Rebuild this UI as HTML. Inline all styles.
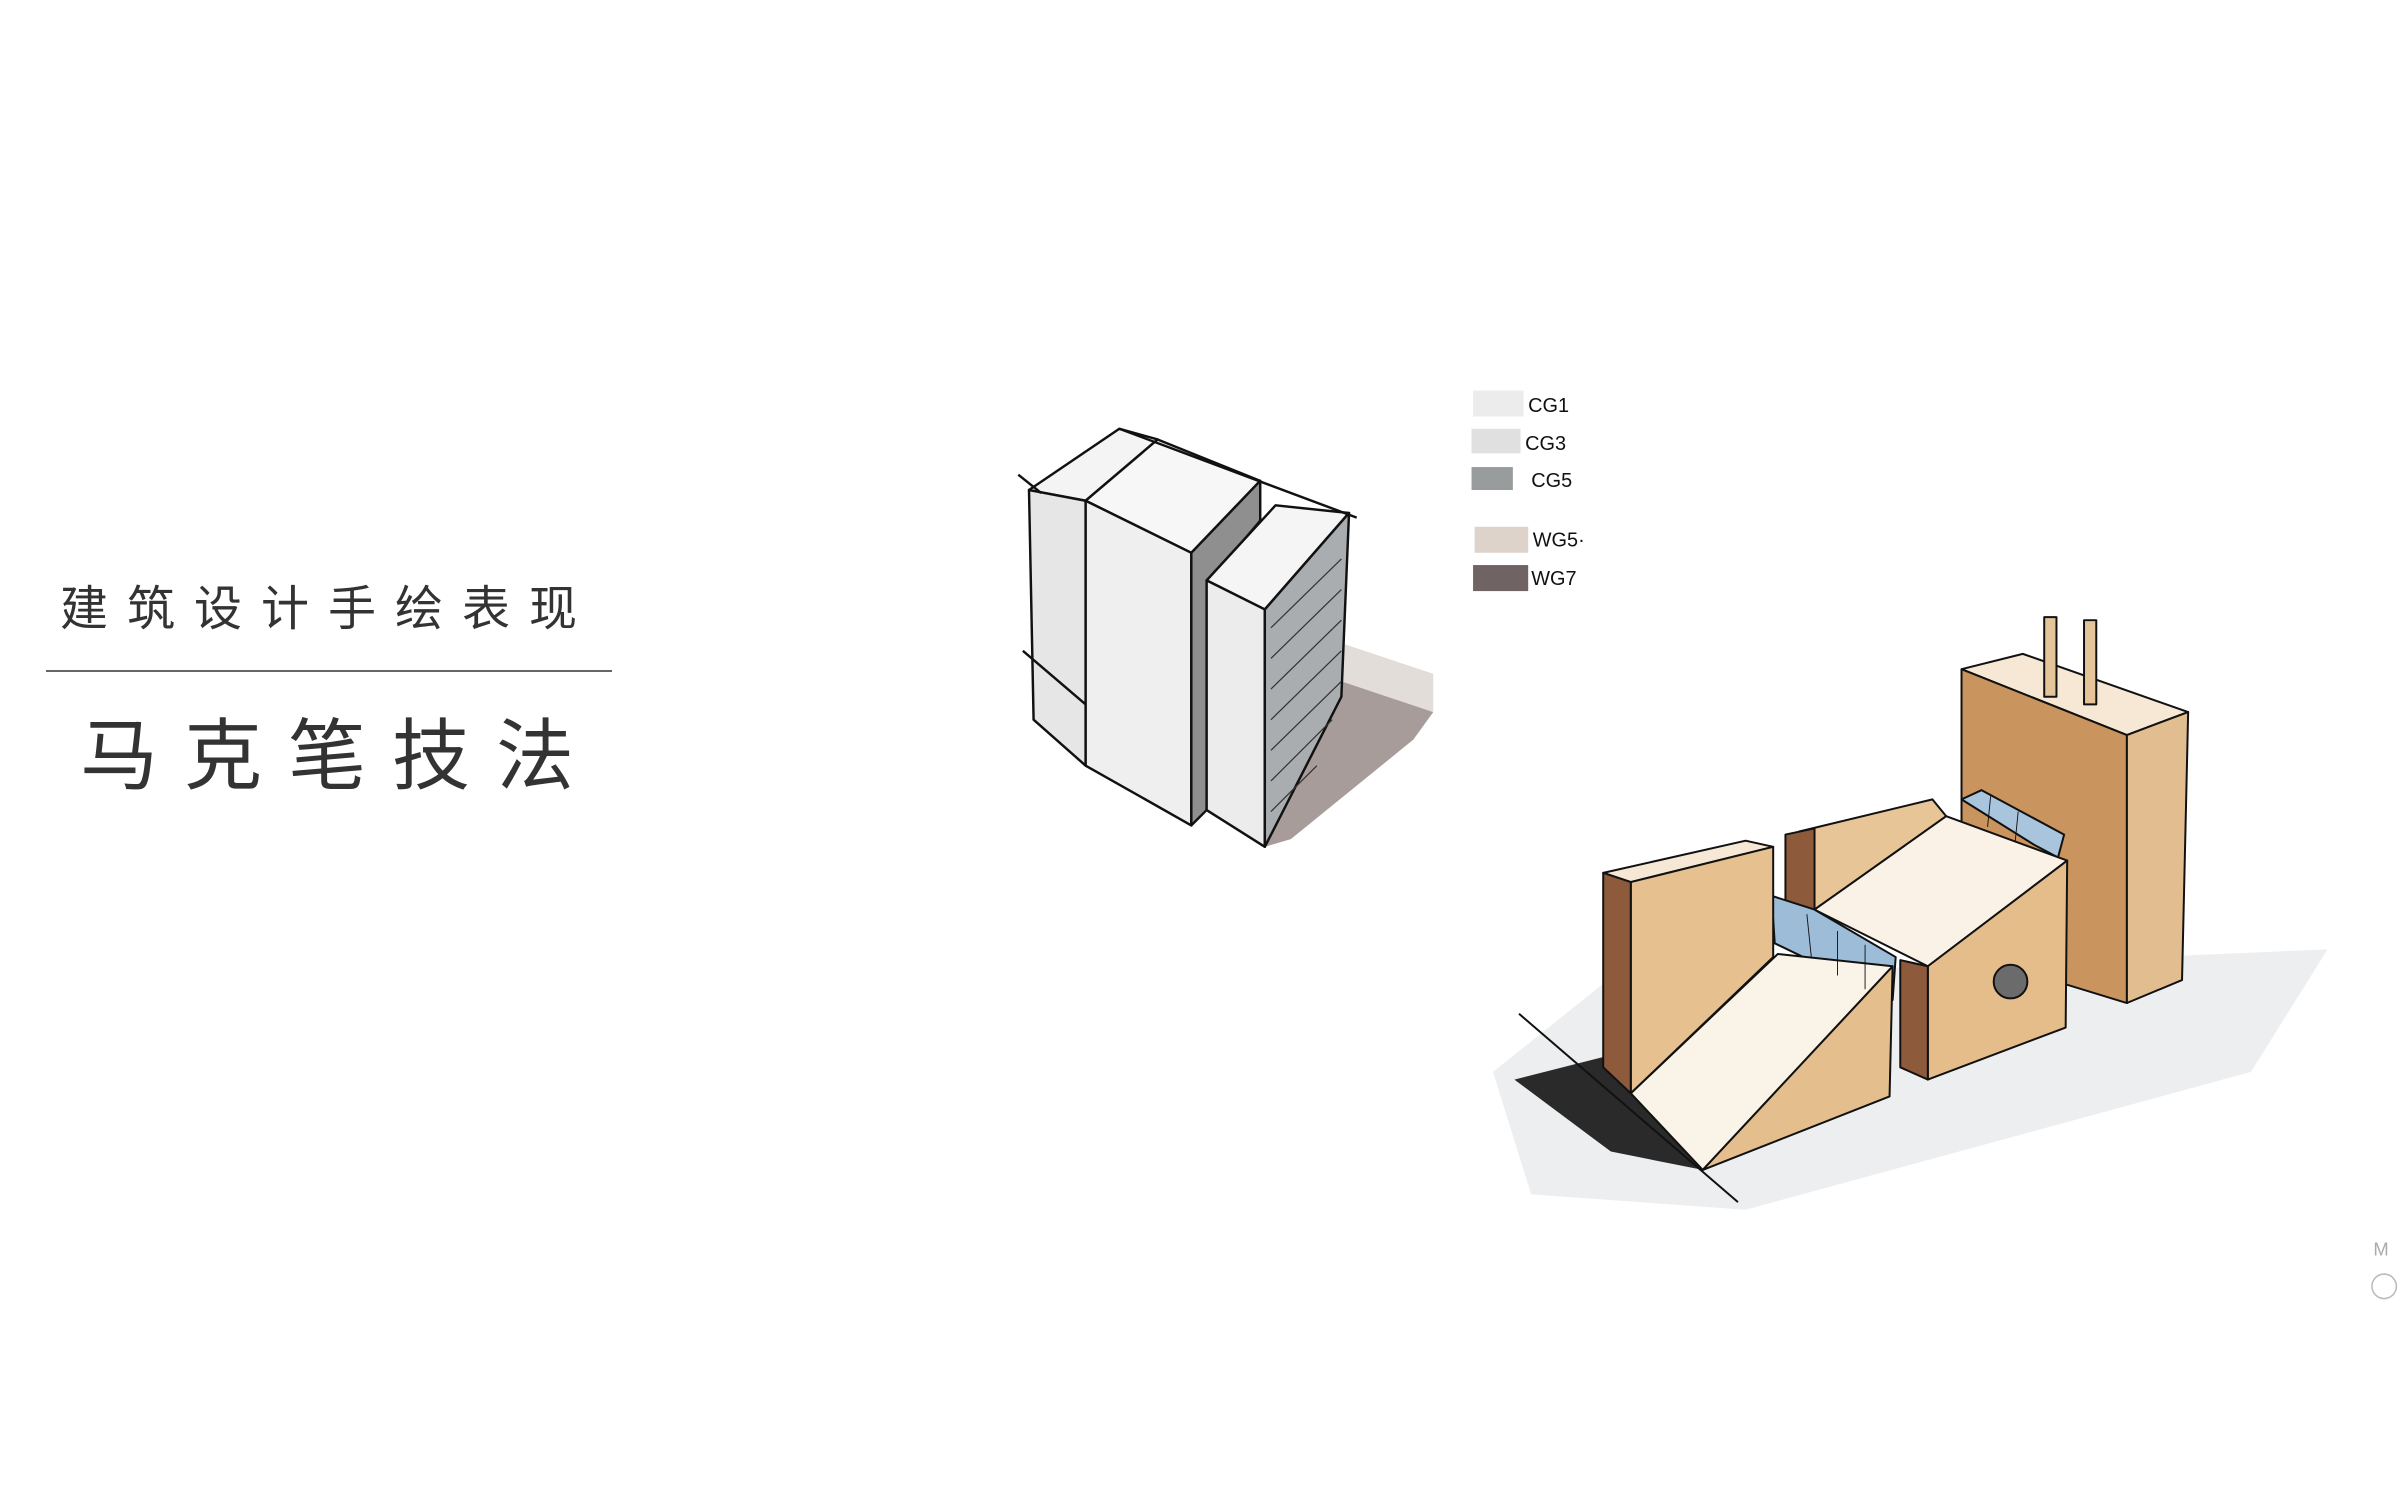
<!DOCTYPE html>
<html><head><meta charset="utf-8">
<style>
html,body{margin:0;padding:0;background:#fff;}
body{width:2401px;height:1501px;overflow:hidden;position:relative;}
svg{position:absolute;left:0;top:0;}
.t1{position:absolute;left:60px;top:580px;font-family:"Liberation Sans","Noto Sans CJK SC",sans-serif;font-size:48px;letter-spacing:19px;color:#333;white-space:nowrap;line-height:60px;}
.t2{position:absolute;left:80px;top:708px;font-family:"Liberation Sans","Noto Sans CJK SC",sans-serif;font-size:78px;letter-spacing:26px;color:#333;white-space:nowrap;line-height:96px;}
.ln{position:absolute;left:46px;top:670px;width:566px;height:2px;background:#666;}
</style></head><body>
<div class="t1">建筑设计手绘表现</div>
<div class="ln"></div>
<div class="t2">马克笔技法</div>
<svg width="2401" height="1501" viewBox="0 0 1568 980.2" preserveAspectRatio="none">
<g stroke="#111" stroke-width="1.6" stroke-linejoin="round">
<polygon points="826,553 876,440 936,465 923,483 843,548" fill="#8a7b78" stroke="none" opacity="0.75"/>
<polygon points="876,420 936,440 936,465 876,445" fill="#e2ddd8" stroke="none"/>
<polygon points="672,320 731,280 756,287 709,327" fill="#f4f4f4"/>
<polygon points="672,320 709,327 709,500 675,470" fill="#e6e6e6"/>
<polygon points="709,327 756,287 823,314 778,361" fill="#f7f7f7"/>
<polygon points="709,327 778,361 778,539 709,500" fill="#efefef"/>
<polygon points="778,361 823,314 823,340 790,379 788,529 778,539" fill="#8f8f8f"/>
<polygon points="788,379 833,330 881,335 826,398" fill="#f5f5f5"/>
<polygon points="788,379 826,398 826,553 788,529" fill="#ececec"/>
<polygon points="826,398 881,335 876,455 826,553" fill="#a9adb0"/>
<line x1="731" y1="280" x2="886" y2="338"/>
<line x1="665" y1="310" x2="680" y2="322" />
<line x1="668" y1="425" x2="709" y2="460"/>
</g>
<g stroke="#333" stroke-width="0.8">
<line x1="830" y1="410" x2="876" y2="365"/><line x1="830" y1="430" x2="876" y2="385"/>
<line x1="830" y1="450" x2="876" y2="405"/><line x1="830" y1="470" x2="876" y2="425"/>
<line x1="830" y1="490" x2="876" y2="445"/><line x1="830" y1="510" x2="870" y2="470"/>
<line x1="830" y1="530" x2="860" y2="500"/>
</g>
<rect x="962" y="255" width="33" height="17" fill="#ececec"/>
<rect x="961" y="280" width="32" height="16" fill="#e0e0e0"/>
<rect x="961" y="305" width="27" height="15" fill="#999c9d"/>
<rect x="963" y="344" width="35" height="17" fill="#ddd3cb"/>
<rect x="962" y="369" width="36" height="17" fill="#6f6364"/>
<g font-family="Liberation Sans,sans-serif" font-size="13" fill="#111">
<text x="998" y="269">CG1</text><text x="996" y="294">CG3</text><text x="1000" y="318">CG5</text>
<text x="1001" y="357">WG5·</text><text x="1000" y="382">WG7</text>
</g>
<g fill="#eceef0" stroke="none">
<polygon points="975,700 1050,640 1520,620 1470,700 1140,790 1000,780"/>
</g>
<g stroke="#111" stroke-width="1.3" stroke-linejoin="round">
<polygon points="989,705 1048,690 1112,764 1052,752" fill="#2a2a2a" stroke="none"/>
<!-- tall tower -->
<polygon points="1281,437 1321,427 1429,465 1389,480" fill="#f6e8d4"/>
<polygon points="1281,437 1389,480 1389,655 1281,622" fill="#c9945e"/>
<polygon points="1389,480 1429,465 1425,640 1389,655" fill="#e2bd8f"/>
<rect x="1335" y="403" width="8" height="52" fill="#e6c49a"/>
<rect x="1361" y="405" width="8" height="55" fill="#e6c49a"/>
<!-- center back block -->
<polygon points="1175,543 1262,522 1271,533 1185,594 1181,600" fill="#e8c596"/>
<polygon points="1166,545 1185,541 1185,610 1166,604" fill="#8e5a3c"/>
<!-- upper glass -->
<polygon points="1281,522 1294,516 1348,545 1344,560 1329,552" fill="#a9c4dd"/>
<!-- ramp 2 top -->
<polygon points="1185,594 1271,533 1350,562 1259,631" fill="#faf2e6"/>
<!-- lower glass -->
<polygon points="1157,585 1185,594 1238,625 1236,653 1159,616" fill="#9dbcd8"/>
<!-- front face with circle -->
<polygon points="1259,631 1350,562 1349,671 1259,705" fill="#e4bd8b"/>
<polygon points="1241,627 1259,631 1259,705 1241,697" fill="#8e5a3c"/>
<circle cx="1313" cy="641" r="11" fill="#6b6b6b"/>
<!-- left slab -->
<polygon points="1047,570 1140,549 1158,553 1065,576" fill="#f6e8d4"/>
<polygon points="1065,576 1158,553 1158,625 1065,714" fill="#e6c08f"/>
<polygon points="1047,570 1065,576 1065,714 1047,697" fill="#8e5a3c"/>
<!-- ramp 1 -->
<polygon points="1065,714 1161,623 1236,631 1112,764" fill="#faf3e8"/>
<polygon points="1112,764 1236,631 1234,716" fill="#e4bf8d"/>
<line x1="992" y1="662" x2="1135" y2="785"/>
</g>
<g stroke="#111" stroke-width="0.6">
<line x1="1180" y1="597" x2="1183" y2="626"/><line x1="1200" y1="608" x2="1200" y2="637"/>
<line x1="1218" y1="617" x2="1218" y2="646"/>
<line x1="1300" y1="520" x2="1298" y2="540"/><line x1="1318" y1="530" x2="1316" y2="550"/>
</g>
<text x="1550" y="820" font-family="Liberation Sans,sans-serif" font-size="12" fill="#aaa">M</text>
<circle cx="1557" cy="840" r="8" fill="none" stroke="#bbb" stroke-width="1"/>
</svg>
</body></html>
